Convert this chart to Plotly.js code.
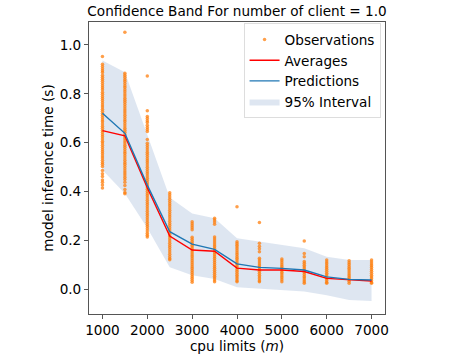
<!DOCTYPE html>
<html>
<head>
<meta charset="utf-8">
<script src="https://cdn.plot.ly/plotly-3.0.1.min.js"></script>
<style>html,body{margin:0;padding:0;background:#fff;}#chart{width:474px;height:355px;}</style>
</head>
<body>
<div id="chart"></div>
<script>
// CPU limits (x categories)
const cpuLimits = [1000, 1500, 2000, 2500, 3000, 3500, 4000, 4500, 5000, 5500, 6000, 6500, 7000];
// Averages of observations
const averages = [0.649, 0.628, 0.415, 0.217, 0.160, 0.155, 0.086, 0.078, 0.078, 0.072, 0.044, 0.037, 0.033];
// Model predictions
const predictions = [0.720, 0.638, 0.426, 0.235, 0.184, 0.163, 0.103, 0.089, 0.085, 0.078, 0.050, 0.040, 0.037];
// 95% interval bounds
const upper95 = [0.936, 0.888, 0.632, 0.375, 0.310, 0.290, 0.208, 0.194, 0.180, 0.167, 0.133, 0.119, 0.119];
const lower95 = [0.488, 0.392, 0.250, 0.089, 0.057, 0.041, 0.008, 0.002, -0.005, -0.010, -0.025, -0.045, -0.049];

// Observations per cpu limit
const obs1000 = [0.953, 0.921, 0.912, 0.903, 0.894, 0.887, 0.876, 0.868, 0.859, 0.851, 0.842, 0.833, 0.825, 0.816, 0.806, 0.798, 0.789, 0.781, 0.772, 0.763, 0.754, 0.746, 0.737, 0.728, 0.719, 0.711, 0.702, 0.693, 0.685, 0.676, 0.667, 0.659, 0.650, 0.641, 0.632, 0.624, 0.615, 0.606, 0.598, 0.589, 0.580, 0.571, 0.563, 0.554, 0.545, 0.537, 0.528, 0.519, 0.511, 0.502, 0.486, 0.472, 0.461, 0.447, 0.438, 0.426, 0.414];
const obs1500 = [1.052, 0.884, 0.876, 0.868, 0.858, 0.851, 0.842, 0.833, 0.826, 0.817, 0.808, 0.799, 0.791, 0.782, 0.773, 0.765, 0.756, 0.747, 0.738, 0.729, 0.721, 0.712, 0.703, 0.694, 0.686, 0.677, 0.668, 0.659, 0.651, 0.642, 0.633, 0.624, 0.616, 0.607, 0.598, 0.589, 0.581, 0.572, 0.563, 0.555, 0.546, 0.537, 0.528, 0.519, 0.511, 0.502, 0.493, 0.484, 0.476, 0.467, 0.458, 0.449, 0.438, 0.424, 0.408, 0.396, 0.391];
const obs2000 = [0.873, 0.731, 0.707, 0.699, 0.690, 0.682, 0.671, 0.662, 0.654, 0.645, 0.613, 0.597, 0.588, 0.579, 0.570, 0.561, 0.552, 0.543, 0.534, 0.526, 0.517, 0.508, 0.499, 0.490, 0.481, 0.472, 0.463, 0.454, 0.445, 0.436, 0.427, 0.418, 0.409, 0.400, 0.391, 0.382, 0.373, 0.364, 0.355, 0.346, 0.337, 0.328, 0.319, 0.310, 0.301, 0.292, 0.283, 0.274, 0.265, 0.256, 0.247, 0.238, 0.229, 0.221, 0.213];
const obs2500 = [0.395, 0.386, 0.377, 0.368, 0.359, 0.350, 0.341, 0.332, 0.323, 0.314, 0.305, 0.296, 0.287, 0.278, 0.269, 0.260, 0.251, 0.242, 0.233, 0.224, 0.215, 0.206, 0.197, 0.188, 0.179, 0.170, 0.161, 0.152, 0.143, 0.134, 0.125, 0.120];
const obs3000 = [0.276, 0.268, 0.259, 0.251, 0.243, 0.212, 0.204, 0.196, 0.188, 0.180, 0.172, 0.164, 0.156, 0.148, 0.140, 0.132, 0.124, 0.116, 0.108, 0.100, 0.092, 0.084, 0.076, 0.068, 0.060, 0.052, 0.044, 0.036, 0.028];
const obs3500 = [0.290, 0.283, 0.275, 0.266, 0.213, 0.205, 0.197, 0.189, 0.181, 0.173, 0.165, 0.157, 0.149, 0.141, 0.133, 0.125, 0.117, 0.109, 0.101, 0.093, 0.085, 0.077, 0.069, 0.061, 0.053, 0.045, 0.037, 0.030];
const obs4000 = [0.337, 0.194, 0.187, 0.180, 0.172, 0.165, 0.157, 0.149, 0.142, 0.134, 0.126, 0.119, 0.111, 0.103, 0.096, 0.088, 0.080, 0.073, 0.065, 0.057, 0.050, 0.042, 0.034, 0.030];
const obs4500 = [0.273, 0.188, 0.176, 0.165, 0.153, 0.126, 0.119, 0.111, 0.103, 0.096, 0.088, 0.080, 0.073, 0.065, 0.057, 0.050, 0.042, 0.034, 0.030];
const obs5000 = [0.123, 0.116, 0.108, 0.100, 0.093, 0.085, 0.077, 0.069, 0.062, 0.054, 0.046, 0.038, 0.030];
const obs5500 = [0.197, 0.146, 0.133, 0.113, 0.106, 0.098, 0.091, 0.083, 0.075, 0.068, 0.060, 0.052, 0.045, 0.037, 0.030, 0.024];
const obs6000 = [0.119, 0.111, 0.104, 0.096, 0.088, 0.081, 0.073, 0.065, 0.058, 0.050, 0.042, 0.035, 0.028, 0.024];
const obs6500 = [0.116, 0.108, 0.101, 0.093, 0.085, 0.078, 0.070, 0.062, 0.055, 0.047, 0.040, 0.032, 0.024];
const obs7000 = [0.119, 0.111, 0.103, 0.096, 0.088, 0.080, 0.073, 0.065, 0.057, 0.050, 0.042, 0.034, 0.027, 0.024];

const xTicks = [1000, 2000, 3000, 4000, 5000, 6000, 7000];
const yTicks = [0.0, 0.2, 0.4, 0.6, 0.8, 1.0];

const obsGroups = [obs1000, obs1500, obs2000, obs2500, obs3000, obs3500, obs4000, obs4500, obs5000, obs5500, obs6000, obs6500, obs7000];
const obsX = [], obsY = [];
obsGroups.forEach((g, i) => g.forEach(v => { obsX.push(cpuLimits[i]); obsY.push(v); }));

const FONT = 'DejaVu Sans, sans-serif';
const FS = 13.6;

const traces = [
  {
    x: cpuLimits.concat(cpuLimits.slice().reverse()),
    y: upper95.concat(lower95.slice().reverse()),
    type: 'scatter', mode: 'lines', fill: 'toself',
    fillcolor: 'rgba(176,196,222,0.42)', line: {width: 0, color: 'rgba(0,0,0,0)'},
    name: '95% Interval', legendrank: 4, hoverinfo: 'skip'
  },
  {
    x: obsX, y: obsY, type: 'scatter', mode: 'markers',
    marker: {color: 'rgba(255,127,14,0.75)', size: 3.5, line: {width: 0}},
    name: 'Observations', legendrank: 1
  },
  {
    x: cpuLimits, y: averages, type: 'scatter', mode: 'lines',
    line: {color: '#ff0000', width: 1.4}, name: 'Averages', legendrank: 2
  },
  {
    x: cpuLimits, y: predictions, type: 'scatter', mode: 'lines',
    line: {color: '#1f77b4', width: 1.4}, name: 'Predictions', legendrank: 3
  }
];

const axisCommon = {
  showgrid: false, zeroline: false, showline: true, mirror: true,
  linecolor: '#555', linewidth: 1, ticks: 'outside', ticklen: 4, tickwidth: 1,
  tickcolor: '#555', tickfont: {family: FONT, size: FS, color: '#000'}
};

const layout = {
  width: 474, height: 355,
  paper_bgcolor: '#fff', plot_bgcolor: '#fff',
  margin: {l: 89, r: 89, t: 22, b: 41, pad: 0},
  font: {family: FONT, size: FS, color: '#000'},
  title: {text: 'Confidence Band For number of client = 1.0', font: {family: FONT, size: FS, color: '#000'},
          x: 0.5, xref: 'paper', y: 1 - 11/355, yref: 'container', yanchor: 'middle'},
  xaxis: Object.assign({}, axisCommon, {
    range: [700, 7300], tickvals: xTicks, ticktext: xTicks.map(String),
    title: {text: 'cpu limits (<i>m</i>)', font: {family: FONT, size: FS}, standoff: 1}
  }),
  yaxis: Object.assign({}, axisCommon, {
    range: [-0.102, 1.094], tickvals: yTicks, ticktext: yTicks.map(v => v.toFixed(1)),
    title: {text: 'model inference time (s)', font: {family: FONT, size: FS}, standoff: 2}
  }),
  showlegend: true,
  legend: {
    x: 0.985, xanchor: 'right', y: 0.996, yanchor: 'top',
    bgcolor: 'rgba(255,255,255,0.8)', bordercolor: '#ddd', borderwidth: 1,
    font: {family: FONT, size: FS, color: '#000'}, tracegroupgap: 0
  }
};

Plotly.newPlot('chart', traces, layout, {displayModeBar: false, staticPlot: true});
</script>
</body>
</html>
